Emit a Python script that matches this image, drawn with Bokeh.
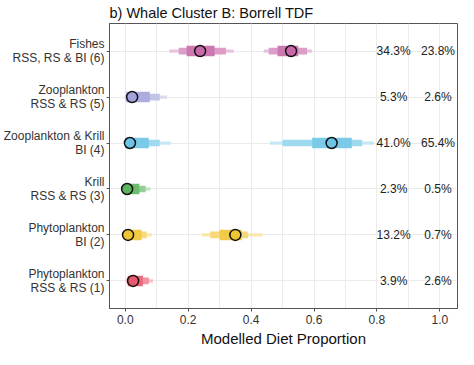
from bokeh.plotting import figure
from bokeh.models import FixedTicker, ColumnDataSource, Range1d
from bokeh.core.properties import value
from bokeh.embed import file_html
from bokeh.resources import INLINE

# ---- data ----
row_labels = ["Phytoplankton\nRSS & RS (1)", "Phytoplankton\nBI (2)", "Krill\nRSS & RS (3)",
              "Zooplankton & Krill\nBI (4)", "Zooplankton\nRSS & RS (5)", "Fishes\nRSS, RS & BI (6)"]
row_ids = [1, 2, 3, 4, 5, 6]
row_colors = ["#e8596b", "#efc534", "#5db65d", "#6cc5e6", "#a3a3db", "#c969aa"]
pct_a = ["3.9%", "13.2%", "2.3%", "41.0%", "5.3%", "34.3%"]
pct_b = ["2.6%", "0.7%", "0.5%", "65.4%", "2.6%", "23.8%"]

seg_row = [6, 6, 5, 4, 4, 3, 2, 2, 1]
seg_point = [0.238, 0.527, 0.022, 0.015, 0.656, 0.006, 0.009, 0.350, 0.025]
thick_lo = [0.195, 0.484, 0.003, 0.000, 0.594, 0.000, 0.000, 0.300, 0.008]
thick_hi = [0.284, 0.550, 0.078, 0.075, 0.720, 0.045, 0.052, 0.370, 0.056]
mid_lo = [0.170, 0.456, 0.000, 0.000, 0.500, 0.000, 0.000, 0.270, 0.005]
mid_hi = [0.320, 0.578, 0.110, 0.110, 0.753, 0.065, 0.068, 0.390, 0.075]
out_lo = [0.140, 0.440, -0.002, 0.000, 0.460, 0.000, 0.000, 0.244, 0.003]
out_hi = [0.345, 0.594, 0.133, 0.145, 0.790, 0.080, 0.085, 0.437, 0.088]

x_ticks = [0.0, 0.2, 0.4, 0.6, 0.8, 1.0]
x_minor = [0.1, 0.3, 0.5, 0.7, 0.9]


def blend(hexcol, f):
    r, g, b = int(hexcol[1:3], 16), int(hexcol[3:5], 16), int(hexcol[5:7], 16)
    r = round(255 - (255 - r) * f); g = round(255 - (255 - g) * f); b = round(255 - (255 - b) * f)
    return "#%02x%02x%02x" % (r, g, b)


seg_col = [row_colors[r - 1] for r in seg_row]

FONT = "Liberation Sans"

p = figure(width=458, height=349, output_backend="svg", toolbar_location=None,
           x_range=Range1d(-0.05, 1.056), y_range=Range1d(0.4, 6.6),
           min_border_left=106, min_border_right=1, min_border_top=0, min_border_bottom=0)

p.title.text = "b) Whale Cluster B: Borrell TDF"
p.title.text_font = FONT
p.title.text_font_size = "14.5px"
p.title.text_font_style = "normal"
p.title.text_color = "#111111"
p.title.standoff = 5
p.title.align = "left"

p.outline_line_color = "#555555"
p.outline_line_width = 1

# grids
p.xgrid.ticker = FixedTicker(ticks=x_ticks, minor_ticks=x_minor)
p.xgrid.grid_line_color = "#ebebeb"
p.xgrid.minor_grid_line_color = "#ebebeb"
p.ygrid.ticker = FixedTicker(ticks=row_ids)
p.ygrid.grid_line_color = "#ebebeb"

# axes
p.xaxis.ticker = FixedTicker(ticks=x_ticks, minor_ticks=x_minor)
p.xaxis.axis_label = "Modelled Diet Proportion"
p.xaxis.axis_label_text_font = FONT
p.xaxis.axis_label_text_font_size = "15px"
p.xaxis.axis_label_text_font_style = "normal"
p.xaxis.axis_label_text_color = "#111111"
p.xaxis.axis_label_standoff = 3
p.xaxis.axis_label_text_line_height = 1.0
p.xaxis.major_label_overrides = {t: "%.1f" % t for t in x_ticks}

p.yaxis.ticker = FixedTicker(ticks=row_ids)
p.yaxis.major_label_overrides = {r: lab for r, lab in zip(row_ids, row_labels)}

for ax in (p.xaxis[0], p.yaxis[0]):
    ax.major_label_text_font = FONT
    ax.major_label_text_font_size = "12px"
    ax.major_label_text_color = "#333333"
    ax.major_label_text_line_height = 1.0
    ax.axis_line_color = "#555555"
    ax.major_tick_line_color = "#555555"
    ax.major_tick_out = 3
    ax.major_tick_in = 0
    ax.minor_tick_line_color = None
    ax.major_label_standoff = 2

p.yaxis.major_label_text_align = "right"

src = ColumnDataSource(dict(
    y=seg_row, pt=seg_point, tl=thick_lo, th=thick_hi, ml=mid_lo, mh=mid_hi, ol=out_lo, oh=out_hi,
    c_out=[blend(c, 0.40) for c in seg_col],
    c_mid=[blend(c, 0.65) for c in seg_col],
    c_thk=[blend(c, 0.90) for c in seg_col],
    c_pt=seg_col,
))

p.hbar(y="y", left="ol", right="oh", height=0.07, fill_color="c_out", line_color=None, source=src)
p.hbar(y="y", left="ml", right="mh", height=0.145, fill_color="c_mid", line_color=None, source=src)
p.hbar(y="y", left="tl", right="th", height=0.23, fill_color="c_thk", line_color=None, source=src)
p.scatter(x="pt", y="y", size=11, fill_color="c_pt", line_color="#111111", line_width=1.5, source=src)

tsrc = ColumnDataSource(dict(y=row_ids, a=pct_a, b=pct_b,
                             xa=[0.853] * len(row_ids), xb=[0.994] * len(row_ids)))
p.text(x="xa", y="y", text="a", text_align="center", text_baseline="middle",
       text_font=value(FONT), text_font_size="12px", text_color="#222222", source=tsrc)
p.text(x="xb", y="y", text="b", text_align="center", text_baseline="middle",
       text_font=value(FONT), text_font_size="12px", text_color="#222222", source=tsrc)

open("out.html", "w").write(file_html(p, INLINE))
